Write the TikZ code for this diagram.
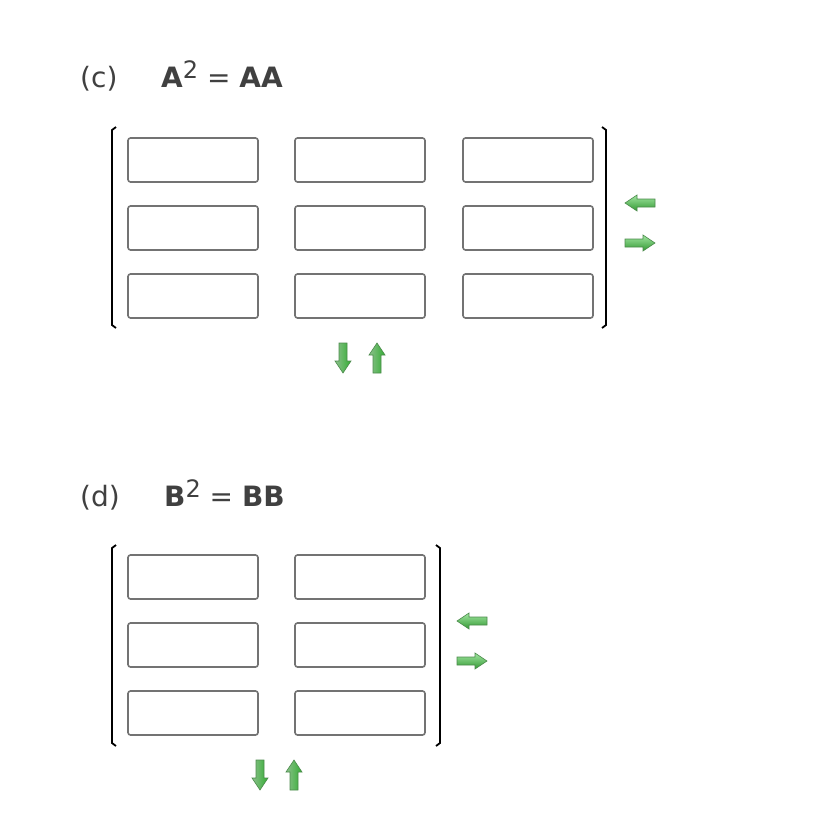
\documentclass[tikz,border=0pt]{standalone}
\usepackage{fontspec}
\setmainfont{DejaVu Sans}
\begin{document}
\begin{tikzpicture}[x=1pt,y=-1pt,
 cell/.style={draw=black!55,line width=1.6pt,rounded corners=2.5pt},
 brk/.style={draw=black,line width=1.8pt},
 lbl/.style={text=black!75,font=\fontsize{28}{30}\selectfont,anchor=base west,inner sep=0},
 garrow/.style={draw=green!35!black!70,line width=0.6pt,left color=green!45!black!45,right color=green!60!black!80}]
\useasboundingbox (0,0) rectangle (830,822);
\newcommand{\sq}{\raisebox{0.55ex}{\fontsize{24}{26}\selectfont 2}}
\newcommand{\hArrow}[3]{%
 \begin{scope}[shift={(#1,#2)},xscale=#3]
 \path[garrow,top color=green!30!white!90!black,bottom color=green!50!black!80] (-15,-4) -- (3,-4) -- (3,-8) -- (15,0) -- (3,8) -- (3,4) -- (-15,4) -- cycle;
 \end{scope}}
\newcommand{\vArrow}[3]{%
 \begin{scope}[shift={(#1,#2)},yscale=#3]
 \path[garrow] (-4,-15) -- (4,-15) -- (4,3) -- (8,3) -- (0,15) -- (-8,3) -- (-4,3) -- cycle;
 \end{scope}}
% (c)
\node[lbl] (lc) at (80,87) {(c)};
\node[lbl] (ec) at (161,87) {\textbf{A}\sq{} = \textbf{AA}};
\foreach \r/\y in {1/138,2/206,3/274}{
 \foreach \c/\x in {1/128,2/295,3/463}{
  \draw[cell] (\x,\y) rectangle ++(130,44) node[pos=.5] (c\r\c) {};}}
\draw[brk] (116,127) -- (112,130) -- (112,325) -- (116,328);
\draw[brk] (602,127) -- (606,130) -- (606,325) -- (602,328);
\hArrow{640}{203}{-1}
\hArrow{640}{243}{1}
\vArrow{343}{358}{1}
\vArrow{377}{358}{-1}
% (d)
\node[lbl] (ld) at (80,506) {(d)};
\node[lbl] (ed) at (164,506) {\textbf{B}\sq{} = \textbf{BB}};
\foreach \r/\y in {1/555,2/623,3/691}{
 \foreach \c/\x in {1/128,2/295}{
  \draw[cell] (\x,\y) rectangle ++(130,44) node[pos=.5] (d\r\c) {};}}
\draw[brk] (116,545) -- (112,548) -- (112,743) -- (116,746);
\draw[brk] (436,545) -- (440,548) -- (440,743) -- (436,746);
\hArrow{472}{621}{-1}
\hArrow{472}{661}{1}
\vArrow{260}{775}{1}
\vArrow{294}{775}{-1}
\end{tikzpicture}
\end{document}
